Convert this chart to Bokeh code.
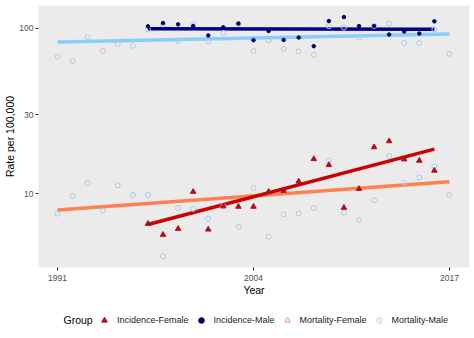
from bokeh.plotting import figure
from bokeh.layouts import column
from bokeh.models import Range1d, FixedTicker, PrintfTickFormatter, Legend, LegendItem, Label, ColumnDataSource
from bokeh.embed import file_html
from bokeh.resources import INLINE

years = list(range(1991, 2018))
inc_years = list(range(1997, 2017))

inc_female = [6.59, 5.66, 6.15, 10.28, 6.09, 8.41, 8.36, 8.36, 10.28, 10.42,
              11.87, 16.2, 14.92, 8.24, 10.71, 19.11, 20.77, 16.14, 15.85, 13.80]
inc_male = [102.4, 107.1, 105.2, 102.8, 90.1, 101.0, 106.3, 84.4, 95.9, 84.7,
            87.6, 77.7, 110.1, 116.4, 102.8, 102.8, 91.3, 95.2, 92.6, 109.7]
mort_male = [67.0, 63.2, 88.3, 72.8, 80.2, 78.0, 98.0, 105.0, 83.6, 104.8,
             82.9, 93.3, 106.0, 72.5, 84.4, 74.6, 72.2, 68.9, 102.4, 100.6,
             87.6, 102.8, 106.3, 81.3, 81.0, 98.2, 69.8]
mort_female = [7.59, 9.73, 11.64, 7.91, 11.23, 9.82, 9.82, 4.20, 8.21, 8.10,
               7.08, 8.4, 6.32, 10.82, 5.51, 7.51, 7.61, 8.19, 15.91, 7.69,
               6.93, 9.13, 16.88, 11.64, 12.54, 14.65, 9.82]

# fitted trend lines (start/end)
trend_inc_years = [1997, 2016]
trend_mort_years = [1991, 2017]
trend_inc_female = [6.52, 18.6]
trend_inc_male = [98.9, 98.4]
trend_mort_female = [7.99, 11.8]
trend_mort_male = [82.4, 92.1]

x_ticks = [1991, 2004, 2017]
y_ticks = [10, 30, 100]
groups = ["Incidence-Female", "Incidence-Male", "Mortality-Female", "Mortality-Male"]

FONT = "Liberation Sans"
FRAME_LEFT = 38

p = figure(width=474, height=298, y_axis_type="log", output_backend="svg",
           toolbar_location=None, x_range=Range1d(1989.74, 2018.33),
           y_range=Range1d(3.59, 136.7),
           min_border_left=FRAME_LEFT, min_border_right=5, min_border_top=5, min_border_bottom=29)
p.background_fill_color = "#EBEBEB"
p.border_fill_color = "white"
p.outline_line_color = None
p.grid.visible = False

for ax in (p.xaxis[0], p.yaxis[0]):
    ax.axis_line_color = None
    ax.major_tick_line_color = "#333333"
    ax.major_tick_in = 0
    ax.major_tick_out = 3
    ax.minor_tick_line_color = None
    ax.major_label_text_font = FONT
    ax.major_label_text_font_size = "8.5px"
    ax.major_label_text_color = "#4D4D4D"
    ax.axis_label_text_font = FONT
    ax.axis_label_text_font_size = "10.5px"
    ax.axis_label_text_font_style = "normal"
    ax.axis_label_text_color = "black"

p.xaxis.ticker = FixedTicker(ticks=x_ticks)
p.yaxis.ticker = FixedTicker(ticks=y_ticks)
p.yaxis.formatter = PrintfTickFormatter(format="%d")
p.xaxis.axis_label = "Year"
p.yaxis.axis_label = "Rate per 100,000"
p.xaxis.major_label_standoff = 4
p.xaxis.axis_label_standoff = 0
p.yaxis.major_label_standoff = 2
p.yaxis.axis_label_standoff = 0

# trend lines
p.line(trend_mort_years, trend_mort_female, line_color="#FF8050", line_width=3.5)
p.line(trend_mort_years, trend_mort_male, line_color="#87CEFA", line_width=3.5)
p.line(trend_inc_years, trend_inc_male, line_color="#00008B", line_width=3.5)
p.line(trend_inc_years, trend_inc_female, line_color="#CC0000", line_width=3.5)

# points
p.scatter(years, mort_male, marker="circle", size=5, fill_color=None,
          line_color="#A6CEE3", line_width=1)
p.scatter(years, mort_female, marker="circle", size=5, fill_color=None,
          line_color="#A6CEE3", line_width=1)
p.scatter(inc_years, inc_male, marker="circle", size=3.5, fill_color="#000066",
          line_color="#000066")
p.scatter(inc_years, inc_female, marker="triangle", size=5.5, fill_color="#B0101A",
          line_color="#B0101A")

# legend panel below the chart (its frame is aligned with the chart's frame)
lg = figure(width=474, height=40, output_backend="svg", toolbar_location=None,
            x_range=Range1d(0, 1), y_range=Range1d(0, 1),
            x_axis_location=None, y_axis_location=None,
            min_border_left=FRAME_LEFT, min_border_right=5, min_border_top=0, min_border_bottom=0)
lg.grid.visible = False
lg.outline_line_color = None
lg.background_fill_color = "white"
lg.border_fill_color = "white"

off = ColumnDataSource(data=dict(x=[-1000], y=[-1000]))  # off-canvas, legend-key only
key_bg = lg.scatter("x", "y", source=off, marker="square", size=15,
                    fill_color="#F0F0F0", line_color=None)
k1 = lg.scatter("x", "y", source=off, marker="triangle", size=5, fill_color="#B0101A", line_color="#B0101A")
k2 = lg.scatter("x", "y", source=off, marker="circle", size=3.5, fill_color="#000066", line_color="#000066")
k3 = lg.scatter("x", "y", source=off, marker="triangle", size=5.5, fill_color=None, line_color="#F4A582")
k4 = lg.scatter("x", "y", source=off, marker="circle", size=4.5, fill_color=None, line_color="#C6DBEF")

items = [LegendItem(label=g, renderers=[key_bg, k]) for g, k in zip(groups, [k1, k2, k3, k4])]
legend = Legend(items=items, orientation="horizontal", location=(97 - FRAME_LEFT, 11.5),
                background_fill_alpha=0, border_line_color=None, padding=0, margin=0,
                spacing=5, label_standoff=6, glyph_width=14, glyph_height=14,
                label_text_font=FONT, label_text_font_size="9px", label_text_color="#1A1A1A",
                label_height=14)
lg.add_layout(legend, "center")

lg.add_layout(Label(x=63 - FRAME_LEFT, y=18.5, x_units="screen", y_units="screen", text="Group",
                    text_font=FONT, text_font_size="10.5px", text_baseline="middle",
                    text_align="left", text_color="black"))

layout = column(p, lg, spacing=0)
open("out.html", "w").write(file_html(layout, INLINE))
